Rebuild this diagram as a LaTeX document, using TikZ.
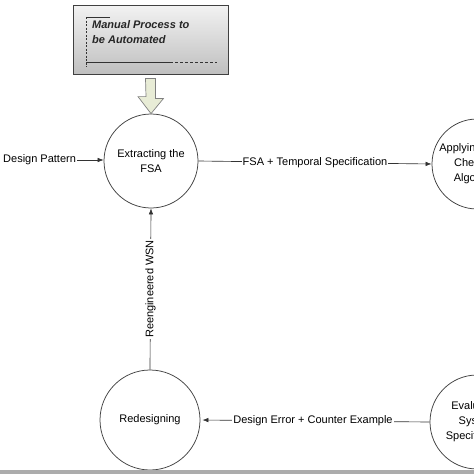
\documentclass[tikz,border=0pt]{standalone}
\usepackage{fontspec}
\setmainfont{Liberation Sans}
\usetikzlibrary{arrows.meta,shadows,calc}
\begin{document}
\begin{tikzpicture}[x=1pt,y=-1pt,
  proc/.style={circle,draw=black!75,line width=0.75pt,minimum size=96pt,inner sep=0pt,align=center,font=\fontsize{11}{15}\selectfont},
  lbl/.style={font=\fontsize{11}{13}\selectfont,inner sep=1pt,fill=white},
  conn/.style={draw=black!80,line width=0.65pt,-{Latex[length=6pt,width=4.5pt]}},
  boxline/.style={black!80,line width=0.9pt}]
\useasboundingbox (0,0) rectangle (474,474);
\clip (0,0) rectangle (474,474);
% manual process box
\node[draw=black!75,line width=0.9pt,minimum width=155pt,minimum height=69pt,inner sep=0pt,
  top color=gray!10,bottom color=gray!50,
  drop shadow={shadow xshift=1.2pt,shadow yshift=-1.2pt,opacity=0.35}] (box) at (150.5,39.5) {};
\node[anchor=north west,align=left,inner sep=0pt,font=\fontsize{11}{14.5}\selectfont\bfseries\itshape,text=black!85] (boxtext) at (92,20.5) {Manual Process to\\be Automated};
\draw[boxline] (110,17) -- (86,17);
\draw[boxline,dash pattern=on 2pt off 1.5pt] (86,17) -- (86,67);
\draw[boxline] (86,62) -- (170,62);
\draw[boxline,dash pattern=on 3pt off 2pt] (170,62) -- (217,62);
% circles
\node[proc,minimum size=94pt] (c1) at (151,161) {Extracting the\\FSA};
\node[proc,minimum size=90pt] (c2) at (477,164) {Applying Model\\Checking\\Algorithm};
\node[proc,minimum size=94pt] (c3) at (477,422) {Evaluating\\System\\Specification};
\node[proc,minimum size=100pt] (c4) at (150,420) {Redesigning};
% hollow arrow
\draw[draw=black!50,fill={rgb,255:red,232;green,236;blue,214},line width=0.7pt]
  ($(box.south)+(-5,4)$) -- ++(10,0) -- ++(0,20) -- ++(8,0) -- (c1.north) -- ++(-13,-17) -- ++(8,0) -- cycle;
% input
\node[anchor=west,font=\fontsize{11}{13}\selectfont,inner sep=1pt] (dp) at (2,160) {Design Pattern};
\draw[conn] (dp.east) -- (c1.west |- dp.east);
% connectors
\draw[conn] (c1.east) -- node[lbl] (l1) {FSA + Temporal Specification} (c2.west);
\draw[conn,shorten >=2pt] (c3.west) -- node[lbl,xshift=-2pt] (l2) {Design Error + Counter Example} (c4.east);
\draw[conn] (c4.north) -- node[lbl,rotate=90] (l3) {Reengineered WSN} (c1.south);
% bottom bar
\fill[gray!65] (0,470) rectangle (474,474);
\end{tikzpicture}
\end{document}
